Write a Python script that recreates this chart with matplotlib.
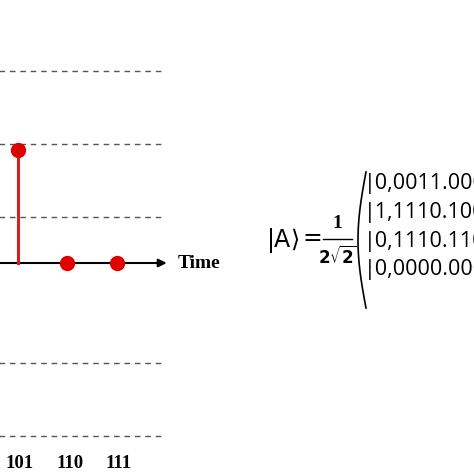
import numpy as np
import matplotlib.pyplot as plt

states = ["101", "110", "111"]
x_pos = [5, 6, 7]
amps = [1.55, 0.0, 0.0]
grid_levels = [2.63, 1.63, 0.63, -1.37, -2.37]
rows = ["|0,0011.0000", "|1,1110.1000", "|0,1110.1100", "|0,0000.0000"]

W = 474
fig = plt.figure(figsize=(4.74, 4.74), dpi=100)

# chart axes: pixels 0..170 wide, full height
ax = fig.add_axes([0, 0, 170 / W, 1])
ax.set_xlim(5 - 18 / 49.5, 5 + 170 / 49.5 - 18 / 49.5)
ax.set_ylim(-211 / 73, 263 / 73)
ax.axis("off")
for lv in grid_levels:
    ax.plot([4.0, 8.0 - 0.1], [lv, lv], ls=(0, (4, 3.5)), color="#555555", lw=1)
ax.annotate("", xy=(8.06, 0), xytext=(4.0, 0),
            arrowprops=dict(arrowstyle="-|>", color="black", lw=1.5, mutation_scale=12))
for x, a in zip(x_pos, amps):
    if a != 0:
        ax.plot([x, x], [0, a], color="#d62020", lw=2.2, zorder=3)
    ax.plot(x, a, "o", color="#e00000", ms=10, zorder=4)

# overlay in pixel coords for text
ov = fig.add_axes([0, 0, 1, 1])
ov.set_xlim(0, W)
ov.set_ylim(W, 0)
ov.axis("off")
ov.text(178, 263, "Time", fontsize=14, fontweight="bold", family="Liberation Serif", va="center")
for x, s in zip([20, 70, 119], states):
    ov.text(x, 463, s, fontsize=13.5, fontweight="bold", family="Liberation Serif", ha="center", va="center")

ov.text(266, 240, r"$|\mathsf{A}\rangle$", fontsize=17, va="center")
ov.text(303, 238, "=", fontsize=17, va="center")
ov.text(337, 223, "1", fontsize=14, fontweight="bold", family="Liberation Serif", ha="center", va="center")
ov.plot([323, 352], [239, 239], color="black", lw=1)
ov.text(337, 257, r"$\mathbf{2\sqrt{2}}$", fontsize=12, ha="center", va="center")

t = np.linspace(0, 1, 50)
ov.plot(358 + 8 * (1 - np.sin(np.pi * t)), 172 + 136 * t, color="black", lw=1.2)
for i, r in enumerate(rows):
    ov.text(364, 184 + 28.5 * i, r, fontsize=15.5, family="Open Sans", va="center")

fig.savefig("out.png", dpi=100)
